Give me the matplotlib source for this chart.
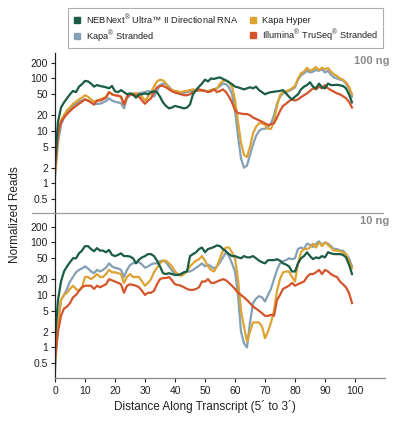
import numpy as np
import matplotlib
matplotlib.use("Agg")
import matplotlib.pyplot as plt
from matplotlib.lines import Line2D

plt.rcParams['font.family'] = ['Liberation Sans', 'DejaVu Sans']
plt.rcParams['mathtext.fontset'] = 'custom'
plt.rcParams['mathtext.rm'] = 'Liberation Sans'

# position along transcript, 0..99
pos = np.arange(100)

# 100 ng input
neb_100 = [2.5, 15, 28, 35, 42, 50, 58, 55, 70, 78,
           90, 88, 80, 70, 75, 72, 70, 68, 65, 72,
           57, 55, 60, 55, 50, 52, 50, 43, 50, 50,
           52, 50, 55, 57, 55, 45, 35, 30, 27, 28,
           30, 29, 28, 27, 28, 32, 50, 60, 70, 80,
           95, 88, 100, 98, 102, 105, 98, 92, 85, 78,
           70, 68, 65, 62, 65, 68, 65, 70, 60, 55,
           50, 53, 55, 56, 57, 58, 60, 52, 45, 40,
           45, 50, 62, 70, 75, 85, 70, 65, 80, 68,
           65, 80, 75, 75, 76, 74, 72, 65, 50, 35]
hyper_100 = [1.5, 8, 16, 20, 25, 28, 33, 36, 40, 43,
             48, 45, 40, 36, 38, 40, 42, 45, 55, 50,
             48, 47, 45, 32, 45, 50, 52, 52, 50, 45,
             38, 45, 55, 70, 88, 95, 92, 80, 65, 60,
             58, 57, 55, 57, 58, 60, 62, 60, 58, 60,
             58, 57, 60, 62, 65, 80, 90, 92, 85, 70,
             40, 15, 6, 3.5, 3.2, 5, 9, 12, 14, 14,
             13, 11, 11, 15, 30, 48, 55, 57, 60, 65,
             72, 100, 125, 135, 160, 140, 150, 165, 145, 160,
             150, 158, 135, 120, 112, 100, 95, 85, 70, 50]
kapa_100 = [1.3, 6, 13, 18, 22, 26, 30, 33, 36, 38,
            40, 38, 35, 32, 33, 33, 35, 37, 42, 38,
            36, 35, 34, 27, 42, 48, 50, 52, 52, 54,
            55, 58, 55, 45, 58, 75, 80, 78, 70, 60,
            55, 53, 52, 53, 55, 57, 58, 58, 60, 58,
            58, 57, 60, 62, 65, 72, 80, 78, 68, 50,
            25, 8, 3, 2, 2.2, 3.5, 5.5, 8, 10, 11,
            11, 12, 14, 20, 33, 45, 52, 55, 58, 62,
            68, 95, 115, 125, 140, 130, 135, 145, 140, 150,
            130, 140, 118, 105, 100, 95, 92, 80, 65, 45]
illu_100 = [1.8, 9, 15, 18, 21, 24, 27, 30, 33, 36,
            40, 38, 35, 32, 38, 38, 40, 43, 55, 50,
            48, 47, 45, 32, 45, 50, 48, 48, 45, 38,
            33, 38, 42, 55, 68, 72, 72, 68, 62, 57,
            54, 52, 50, 48, 48, 50, 55, 58, 62, 60,
            58, 55, 57, 62, 55, 58, 62, 55, 45, 35,
            25, 22, 21.5, 21, 21, 20, 18, 17, 16, 15,
            14, 13, 13.5, 14, 18, 24, 30, 33, 37, 40,
            38, 40, 44, 48, 52, 58, 65, 62, 70, 65,
            75, 65, 60, 56, 52, 50, 46, 42, 36, 28]

# 10 ng input
neb_10 = [1.5, 8, 18, 28, 35, 42, 50, 50, 62, 70,
          85, 85, 75, 68, 78, 70, 70, 65, 72, 58,
          55, 58, 62, 55, 55, 54, 50, 40, 47, 52,
          55, 60, 60, 55, 45, 35, 26, 25, 26, 25,
          24, 24, 25, 27, 28, 55, 60, 65, 75, 80,
          65, 75, 78, 82, 88, 85, 75, 68, 60, 55,
          55, 52, 50, 55, 52, 52, 55, 50, 45, 42,
          40, 46, 46, 46, 48, 45, 40, 38, 35, 28,
          28, 40, 50, 55, 65, 55, 48, 52, 50, 55,
          52, 65, 62, 60, 60, 60, 58, 52, 38, 25]
hyper_10 = [0.5, 3, 8, 10, 11, 13, 15, 13, 12, 14,
            22, 22, 20, 22, 25, 22, 22, 25, 30, 27,
            27, 26, 25, 17, 22, 25, 22, 22, 22, 18,
            15, 17, 20, 27, 33, 40, 45, 45, 40, 35,
            28, 25, 23, 25, 28, 35, 40, 45, 48, 55,
            45, 35, 30, 28, 35, 50, 70, 80, 80, 65,
            50, 20, 5, 2.5, 1.3, 2, 3, 3, 3, 2.5,
            1.5, 2, 3, 5, 12, 20, 27, 28, 28, 22,
            18, 40, 65, 75, 75, 80, 95, 80, 100, 85,
            100, 90, 80, 70, 70, 68, 65, 60, 45, 32]
kapa_10 = [0.35, 3, 8, 10, 13, 18, 22, 27, 30, 32,
           35, 32, 28, 26, 30, 28, 30, 33, 40, 35,
           33, 32, 30, 22, 30, 37, 40, 42, 42, 38,
           33, 35, 38, 40, 40, 44, 45, 42, 35, 29,
           25, 24, 25, 27, 28, 28, 30, 33, 36, 40,
           35, 38, 35, 32, 35, 42, 52, 65, 55, 40,
           28, 10, 2, 1.2, 1.0, 3, 7, 8.5, 9.5, 9,
           7.5, 10, 13, 20, 30, 40, 44, 46, 50, 48,
           50, 75, 80, 75, 95, 90, 82, 95, 105, 90,
           100, 95, 85, 75, 75, 70, 70, 60, 50, 35]
illu_10 = [0.6, 2, 4, 5.5, 6, 7, 9, 10, 12, 14,
           15, 15, 15, 13, 15, 14, 15, 16, 20, 19,
           18, 17, 16, 11, 15, 16, 15.5, 15, 14, 12,
           10, 11, 11, 12, 16, 20, 21, 21, 22, 19,
           16, 15.5, 15, 14, 13, 12.5, 12.5, 13, 14, 18,
           18, 20, 17, 17, 18, 19, 20, 19, 17, 15,
           13, 11, 10, 9, 8, 7, 6, 5.5, 5, 4.5,
           4, 4, 4.2, 4, 8, 10, 13, 14, 15, 17,
           15, 16, 17, 18, 22, 25, 25, 27, 30, 25,
           30, 28, 25, 23, 22, 18, 16, 14, 11, 7]

c_neb = '#1a5c44'
c_hyper = '#dca332'
c_kapa = '#83a0b4'
c_illu = '#d4552b'

yticks = [0.5, 1, 2, 5, 10, 20, 50, 100, 200]
ytick_labels = ['0.5', '1', '2', '5', '10', '20', '50', '100', '200']
xticks = [0, 10, 20, 30, 40, 50, 60, 70, 80, 90, 100]

fig = plt.figure(figsize=(4.03, 4.24), dpi=100)
ax1 = fig.add_axes([55/403, 1-213/424, 330/403, 160/424])
ax2 = fig.add_axes([55/403, 1-378/424, 330/403, 165/424])

panels = [(ax1, neb_100, hyper_100, kapa_100, illu_100, '100 ng', (0.274, 306)),
          (ax2, neb_10, hyper_10, kapa_10, illu_10, '10 ng', (0.262, 364))]

for ax, neb, hyper, kapa, illu, tag, ylim in panels:
    ax.plot(pos, kapa, color=c_kapa, lw=1.6)
    ax.plot(pos, hyper, color=c_hyper, lw=1.6)
    ax.plot(pos, illu, color=c_illu, lw=1.6)
    ax.plot(pos, neb, color=c_neb, lw=1.6)
    ax.set_yscale('log')
    ax.set_ylim(*ylim)
    ax.set_xlim(0, 110)
    ax.set_yticks(yticks)
    ax.set_yticklabels(ytick_labels)
    ax.yaxis.set_minor_locator(matplotlib.ticker.NullLocator())
    ax.tick_params(axis='y', length=3, width=0.8, labelsize=7.5, colors='#222222', pad=2)
    ax.tick_params(axis='x', length=3, width=0.8, labelsize=7.5, colors='#222222', pad=3)
    ax.patch.set_alpha(0)
    for s in ['top', 'right']:
        ax.spines[s].set_visible(False)
    ax.spines['left'].set_color('#222222')
    ax.spines['left'].set_linewidth(0.9)
    ax.text((389-55)/330, 0.95, tag, transform=ax.transAxes, ha='right', va='center',
            fontsize=8, fontweight='bold', color='#8a8a8a')

ax1.spines['bottom'].set_visible(False)
ax1.set_xticks([])
ax2.spines['bottom'].set_color('#8a8a8a')
ax2.spines['bottom'].set_linewidth(0.9)
ax2.set_xticks(xticks)

# separator between panels
fig.add_artist(Line2D([32/403, 383/403], [1-213/424, 1-213/424],
                      color='#9a9a9a', lw=0.9, transform=fig.transFigure))

fig.text(15/403, 1-215/424, 'Normalized Reads', rotation=90, ha='center', va='center',
         fontsize=8.5, color='#222222')
ax2.text(50, -0.17, 'Distance Along Transcript (5\u00b4 to 3\u00b4)',
         transform=ax2.get_xaxis_transform(), ha='center', va='center',
         fontsize=8.5, color='#222222')

names = [r'NEBNext$^{\circledR}$ Ultra' + '\u2122 II Directional RNA',
         r'Kapa$^{\circledR}$ Stranded',
         'Kapa Hyper',
         r'Illumina$^{\circledR}$ TruSeq$^{\circledR}$ Stranded']
colors = [c_neb, c_kapa, c_hyper, c_illu]
handles = [Line2D([], [], marker='s', ls='none', color=c, markersize=5) for c in colors]
leg = fig.legend(handles, names, ncol=2, loc='upper right',
                 bbox_to_anchor=(383/403, 1-8/424), fontsize=6.7, frameon=True,
                 fancybox=False, handletextpad=0.5, columnspacing=1.2,
                 labelspacing=0.22, borderpad=0.45, handlelength=0.9,
                 borderaxespad=0)
leg.get_frame().set_edgecolor('#9a9a9a')
leg.get_frame().set_linewidth(0.8)
for t in leg.get_texts():
    t.set_color('#222222')

fig.savefig('out.png', dpi=100)
